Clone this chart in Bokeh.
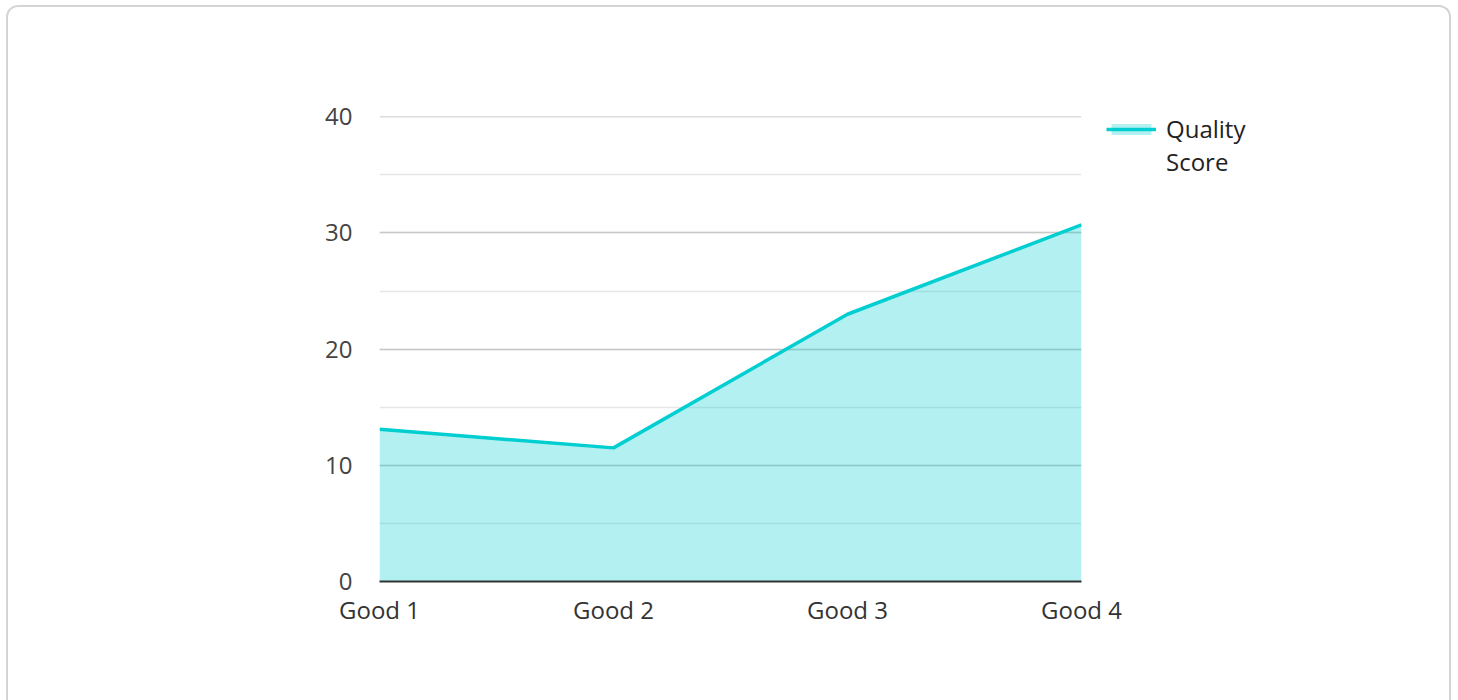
from bokeh.plotting import figure
from bokeh.models import (ColumnDataSource, FixedTicker, SingleIntervalTicker,
                          Legend, LegendItem, Range1d)
from bokeh.embed import file_html
from bokeh.resources import INLINE

categories = ["Good 1", "Good 2", "Good 3", "Good 4"]
quality_score = [13.1, 11.5, 23.0, 30.7]
series_label_lines = ["Quality", "Score"]

FONT = "Open Sans"
LINE_COLOR = "#00CED1"

xs = list(range(len(categories)))
src = ColumnDataSource(dict(x=xs, y=quality_score, y0=[0] * len(xs)))

p = figure(width=1442, height=692, output_backend="svg", toolbar_location=None,
           frame_width=702, frame_height=465,
           min_border_left=371, min_border_top=109, min_border_bottom=118,
           min_border_right=10,
           x_range=Range1d(0, len(categories) - 1), y_range=Range1d(0, 40.02))
p.background_fill_color = "white"
p.border_fill_color = "white"
p.outline_line_color = None
p.styles = {"border": "2px solid #d4d4d4", "border-bottom": "none",
            "border-top-left-radius": "12px", "border-top-right-radius": "12px",
            "margin-top": "5px", "margin-left": "6px",
            "width": "1445px", "height": "695px", "overflow": "hidden"}

area = p.varea(x="x", y1="y0", y2="y", source=src, fill_color=LINE_COLOR, fill_alpha=0.3)
line = p.line(x="x", y="y", source=src, line_color=LINE_COLOR, line_width=3.5)
blank = p.line(x=[], y=[], line_alpha=0)

# x axis
p.xaxis.ticker = FixedTicker(ticks=xs)
p.xaxis.major_label_overrides = {i: c for i, c in enumerate(categories)}
p.xaxis.axis_line_color = "#333333"
p.xaxis.axis_line_width = 2
p.xaxis.major_tick_line_color = None
p.xaxis.minor_tick_line_color = None
p.xaxis.major_tick_out = 0
p.xaxis.minor_tick_out = 0
p.xaxis.major_label_text_font = FONT
p.xaxis.major_label_text_font_size = "24px"
p.xaxis.major_label_text_color = "#333333"
p.xaxis.major_label_standoff = 11
p.xgrid.grid_line_color = None

# y axis
p.yaxis.ticker = SingleIntervalTicker(interval=10, num_minor_ticks=2)
p.yaxis.axis_line_color = None
p.yaxis.major_tick_line_color = None
p.yaxis.minor_tick_line_color = None
p.yaxis.major_tick_out = 0
p.yaxis.minor_tick_out = 0
p.yaxis.major_label_text_font = FONT
p.yaxis.major_label_text_font_size = "24px"
p.yaxis.major_label_text_color = "#444444"
p.yaxis.major_label_standoff = 27
p.ygrid.grid_line_color = "#c8c8c8"
p.ygrid.grid_line_width = 1.5
p.ygrid.minor_grid_line_color = "#e6e6e6"
p.ygrid.minor_grid_line_width = 1.5

legend = Legend(items=[LegendItem(label=series_label_lines[0], renderers=[area, line]),
                       LegendItem(label=series_label_lines[1], renderers=[blank])],
                location=(25, 403), margin=0, padding=0, spacing=-2,
                glyph_width=50, glyph_height=14, label_standoff=10,
                label_text_font=FONT, label_text_font_size="24px",
                label_text_color="#222222",
                border_line_color=None, background_fill_alpha=0)
p.add_layout(legend, "right")

open("out.html", "w").write(file_html(p, INLINE))
